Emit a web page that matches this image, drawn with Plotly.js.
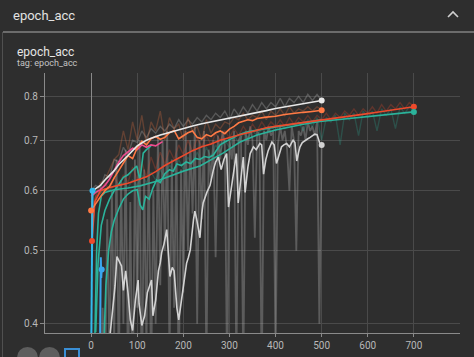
<!DOCTYPE html>
<html>
<head>
<meta charset="utf-8">
<script src="https://cdn.plot.ly/plotly-3.0.1.min.js"></script>
<style>
  html, body { margin:0; padding:0; width:474px; height:357px; overflow:hidden; background:#2e2e2e; font-family: Roboto, "Noto Sans", sans-serif; }
  #hdr { position:absolute; left:13px; top:8px; font-size:13px; color:#e2e2e2; }
  #chev { position:absolute; left:446px; top:9px; }
  #sep { position:absolute; left:3px; top:31px; width:471px; height:2px; background:#6c6c6c; }
  #lborder { position:absolute; left:2px; top:32px; width:1px; height:325px; background:#505050; }
  #ttl { position:absolute; left:17px; top:45px; font-size:12px; color:#e6e6e6; }
  #tag { position:absolute; left:17px; top:58px; font-size:9px; color:#c4c4c4; }
  #plot { position:absolute; left:0; top:0; width:474px; height:357px; }
  .btn { position:absolute; top:347px; width:21px; height:21px; border-radius:50%; background:#5e5e5e; }
  #sq { position:absolute; left:64px; top:348px; width:12px; height:12px; border:2px solid #3a8fd6; }
</style>
</head>
<body>
<div id="plot"></div>
<div id="hdr">epoch_acc</div>
<svg id="chev" width="14" height="10"><polyline points="2,8 7,3 12,8" fill="none" stroke="#cfcfcf" stroke-width="1.6"/></svg>
<div id="sep"></div>
<div id="lborder"></div>
<div id="ttl">epoch_acc</div>
<div id="tag">tag: epoch_acc</div>
<div class="btn" style="left:17px"></div>
<div class="btn" style="left:39px"></div>
<div id="sq"></div>
<script>
// ---------- tick labels ----------
const xTicks = [0, 100, 200, 300, 400, 500, 600, 700];
const yTicks = [0.4, 0.5, 0.6, 0.7, 0.8];
const yTickText = ["0.4", "0.5", "0.6", "0.7", "0.8"];

// ---------- raw (unsmoothed) series ----------
const rawLowSteps = [20,25,30,35,40,45,50,55,60,65,70,75,80,85,90,95,100,105,110,115,120,125,130,135,140,145,150,155,160,165,170,175,180,185,190,195,200,205,210,215,220,225,230,235,240,245,250,255,260,265,270,275,280,285,290,295,300,305,310,315,320,325,330,335,340,345,350,355,360,365,370,375,380,385,390,395,400,405,410,415,420,425,430,435,440,445,450,455,460,465,470,475,480,485,490,495,500];
const rawLowVals = [0.30,0.42,0.33,0.55,0.36,0.60,0.38,0.66,0.34,0.62,0.40,0.68,0.33,0.58,0.30,0.66,0.42,0.70,0.31,0.64,0.37,0.69,0.33,0.60,0.40,0.71,0.45,0.70,0.50,0.72,0.36,0.66,0.42,0.70,0.32,0.64,0.44,0.72,0.50,0.70,0.56,0.73,0.40,0.70,0.55,0.72,0.35,0.68,0.62,0.70,0.49,0.71,0.66,0.72,0.69,0.33,0.70,0.66,0.72,0.35,0.70,0.71,0.34,0.72,0.69,0.73,0.70,0.52,0.72,0.71,0.33,0.72,0.70,0.73,0.71,0.72,0.36,0.69,0.73,0.70,0.72,0.68,0.60,0.73,0.70,0.50,0.72,0.71,0.73,0.70,0.74,0.72,0.73,0.71,0.74,0.40,0.69];

const raw10Steps500 = [0,10,20,30,40,50,60,70,80,90,100,110,120,130,140,150,160,170,180,190,200,210,220,230,240,250,260,270,280,290,300,310,320,330,340,350,360,370,380,390,400,410,420,430,440,450,460,470,480,490,500];
const raw10Steps700 = [0,10,20,30,40,50,60,70,80,90,100,110,120,130,140,150,160,170,180,190,200,210,220,230,240,250,260,270,280,290,300,310,320,330,340,350,360,370,380,390,400,410,420,430,440,450,460,470,480,490,500,510,520,530,540,550,560,570,580,590,600,610,620,630,640,650,660,670,680,690,700];

const rawTopVals = [0.60,0.61,0.605,0.63,0.625,0.66,0.655,0.685,0.67,0.70,0.695,0.72,0.705,0.725,0.715,0.73,0.72,0.735,0.725,0.745,0.73,0.745,0.735,0.75,0.74,0.755,0.745,0.76,0.75,0.765,0.745,0.77,0.755,0.775,0.76,0.78,0.765,0.785,0.77,0.785,0.775,0.795,0.775,0.795,0.785,0.80,0.785,0.805,0.79,0.805,0.79];
const rawOrangeVals = [0.565,0.59,0.615,0.62,0.64,0.66,0.67,0.72,0.68,0.74,0.70,0.755,0.69,0.74,0.72,0.765,0.70,0.75,0.725,0.735,0.70,0.75,0.72,0.73,0.70,0.745,0.715,0.735,0.725,0.74,0.735,0.75,0.745,0.76,0.745,0.755,0.75,0.765,0.745,0.765,0.755,0.77,0.755,0.775,0.76,0.77,0.765,0.775,0.765,0.775,0.768];
const rawRedVals = [0.515,0.59,0.595,0.615,0.60,0.625,0.61,0.63,0.615,0.645,0.62,0.655,0.625,0.665,0.64,0.675,0.65,0.68,0.66,0.69,0.67,0.70,0.675,0.705,0.685,0.71,0.69,0.715,0.70,0.72,0.705,0.725,0.71,0.73,0.715,0.735,0.72,0.74,0.725,0.74,0.73,0.745,0.73,0.75,0.735,0.75,0.74,0.755,0.74,0.755,0.745,0.76,0.745,0.76,0.75,0.765,0.755,0.77,0.755,0.77,0.76,0.775,0.76,0.78,0.765,0.78,0.77,0.785,0.77,0.785,0.775];
const rawTealVals = [0.58,0.60,0.595,0.605,0.60,0.61,0.605,0.615,0.605,0.62,0.61,0.63,0.615,0.635,0.62,0.64,0.625,0.65,0.635,0.66,0.64,0.665,0.65,0.675,0.655,0.685,0.665,0.69,0.675,0.70,0.685,0.71,0.695,0.715,0.705,0.72,0.71,0.725,0.715,0.73,0.72,0.735,0.725,0.735,0.73,0.74,0.72,0.745,0.73,0.75,0.70,0.75,0.74,0.755,0.69,0.76,0.745,0.76,0.71,0.765,0.75,0.765,0.72,0.77,0.755,0.77,0.725,0.775,0.76,0.775,0.763];

// ---------- smoothed series ----------
const topSteps = [0,10,20,30,40,50,60,70,80,90,100,110,120,130,140,150,160,170,180,190,200,220,240,260,280,300,320,340,360,380,400,420,440,460,480,500];
const topVals = [0.598,0.604,0.610,0.620,0.628,0.638,0.650,0.660,0.668,0.678,0.688,0.694,0.700,0.704,0.708,0.711,0.714,0.717,0.720,0.723,0.726,0.731,0.736,0.740,0.744,0.748,0.753,0.757,0.761,0.766,0.771,0.775,0.779,0.783,0.787,0.790];

const orangeSteps = [0,10,20,30,40,50,60,70,80,90,100,110,120,130,140,150,160,170,180,190,200,210,220,230,240,250,260,270,280,290,300,310,320,330,340,350,360,380,400,420,440,460,480,500];
const orangeVals = [0.565,0.578,0.589,0.600,0.608,0.624,0.638,0.652,0.668,0.662,0.684,0.698,0.690,0.703,0.708,0.702,0.706,0.716,0.721,0.703,0.709,0.716,0.720,0.706,0.703,0.712,0.708,0.716,0.720,0.714,0.724,0.730,0.738,0.742,0.745,0.743,0.748,0.751,0.753,0.757,0.760,0.762,0.764,0.767];

const redSteps = [2,8,20,40,60,80,100,120,140,160,180,200,220,240,260,280,300,320,340,360,380,400,420,440,460,480,500,520,540,560,580,600,620,640,660,680,700];
const redVals = [0.515,0.580,0.600,0.606,0.610,0.614,0.620,0.626,0.636,0.648,0.658,0.668,0.678,0.686,0.692,0.700,0.706,0.711,0.716,0.722,0.727,0.730,0.733,0.735,0.738,0.741,0.744,0.747,0.750,0.753,0.756,0.759,0.762,0.765,0.769,0.772,0.775];

const tealASteps = [8,12,16,22,30,50,80,106,140,171,200,236,260,286,323,360,400,431,460,496,524,560,598,640,670,700];
const tealAVals = [0.38,0.50,0.56,0.59,0.597,0.602,0.605,0.609,0.617,0.627,0.637,0.647,0.660,0.673,0.696,0.711,0.722,0.729,0.735,0.741,0.744,0.748,0.752,0.756,0.760,0.763];

const tealBSteps = [28,32,38,44,50,60,70,80,90,100,106,112,118,126,134,142,150,160,170,178,186,196,206,216,226,236,246,256,265,272,280,290,300,312,323,340,360,380,400,420,440,460,480,500];
const tealBVals = [0.38,0.45,0.50,0.53,0.548,0.568,0.585,0.594,0.600,0.602,0.575,0.566,0.590,0.585,0.605,0.620,0.615,0.632,0.640,0.637,0.651,0.648,0.655,0.652,0.662,0.660,0.666,0.664,0.669,0.680,0.690,0.696,0.701,0.708,0.713,0.718,0.722,0.726,0.729,0.732,0.735,0.739,0.742,0.745];

const tealCSteps = [10,15,22,30,40,50,60,70,80,90,99,106,113,120,130];
const tealCVals = [0.39,0.48,0.54,0.565,0.585,0.600,0.612,0.625,0.630,0.640,0.647,0.620,0.673,0.680,0.688];

const pinkSteps = [0,10,20,30,40,50,60,70,80,90,100,110,120,130,140,150,155];
const pinkVals = [0.590,0.597,0.602,0.610,0.622,0.638,0.655,0.668,0.675,0.683,0.680,0.690,0.685,0.690,0.688,0.693,0.697];

const lowSteps = [38,42,45,48,52,56,60,66,70,75,80,85,90,96,102,104,110,116,122,128,131,134,140,146,150,153,158,164,168,171,176,180,186,190,196,202,207,211,215,222,225,229,232,236,240,243,251,258,265,270,276,282,288,294,298,303,308,312,315,319,324,330,334,340,345,352,358,366,370,374,379,384,392,397,402,407,413,418,424,430,438,442,446,450,453,458,464,470,475,480,485,490,496,500];
const lowVals = [0.37,0.39,0.404,0.418,0.45,0.491,0.485,0.477,0.443,0.47,0.44,0.405,0.392,0.43,0.457,0.425,0.398,0.41,0.44,0.45,0.457,0.41,0.43,0.47,0.482,0.497,0.51,0.533,0.49,0.462,0.475,0.47,0.42,0.405,0.43,0.46,0.481,0.49,0.501,0.549,0.564,0.55,0.535,0.52,0.56,0.578,0.597,0.61,0.639,0.655,0.665,0.64,0.66,0.672,0.571,0.60,0.631,0.66,0.672,0.578,0.62,0.665,0.597,0.645,0.672,0.686,0.68,0.693,0.69,0.631,0.66,0.678,0.696,0.69,0.652,0.67,0.686,0.69,0.693,0.686,0.70,0.695,0.657,0.675,0.686,0.695,0.70,0.703,0.706,0.71,0.713,0.712,0.693,0.69];

const cyanSteps = [0,1,2,3];
const cyanVals = [0.35,0.50,0.58,0.60];

const blueSteps = [19,20,21,22,23];
const blueVals = [0.35,0.42,0.49,0.46,0.472];

// ---------- build traces ----------
function raw(x, y, color, op, w) {
  return {x:x, y:y, type:'scatter', mode:'lines', line:{color:color, width:w||1}, opacity:op, hoverinfo:'skip'};
}
function smooth(x, y, color, w) {
  return {x:x, y:y, type:'scatter', mode:'lines', line:{color:color, width:w||1.6}, hoverinfo:'skip'};
}
function dot(x, y, color) {
  return {x:[x], y:[y], type:'scatter', mode:'markers', marker:{color:color, size:6}, hoverinfo:'skip'};
}

const cWhite = '#e8e8e8', cLow = '#d2d2d2', cOrange = '#ff7a45', cRed = '#ee4a2c',
      cTeal = '#2bb39b', cPink = '#ee4d8f', cCyan = '#33bbee', cBlue = '#3aa6f0';

const data = [
  raw(rawLowSteps, rawLowVals, '#bdbdbd', 0.32, 1.8),
  raw(raw10Steps500, rawTopVals, '#bdbdbd', 0.3, 1.4),
  raw(raw10Steps500, rawOrangeVals, cOrange, 0.25, 1.4),
  raw(raw10Steps700, rawRedVals, cRed, 0.25, 1.4),
  raw(raw10Steps700, rawTealVals, cTeal, 0.25, 1.4),
  smooth(lowSteps, lowVals, cLow, 1.6),
  smooth(tealCSteps, tealCVals, cTeal),
  smooth(tealBSteps, tealBVals, cTeal),
  smooth(tealASteps, tealAVals, cTeal),
  smooth(redSteps, redVals, cRed),
  smooth(pinkSteps, pinkVals, cPink),
  smooth(orangeSteps, orangeVals, cOrange),
  smooth(topSteps, topVals, cWhite),
  smooth(cyanSteps, cyanVals, cCyan, 2),
  smooth(blueSteps, blueVals, cBlue, 2),
  dot(topSteps[topSteps.length-1], topVals[topVals.length-1], cWhite),
  dot(orangeSteps[orangeSteps.length-1], orangeVals[orangeVals.length-1], cOrange),
  dot(orangeSteps[0], orangeVals[0], cOrange),
  dot(redSteps[redSteps.length-1], redVals[redVals.length-1], cRed),
  dot(redSteps[0], redVals[0], cRed),
  dot(tealASteps[tealASteps.length-1], tealAVals[tealAVals.length-1], cTeal),
  dot(lowSteps[lowSteps.length-1], lowVals[lowVals.length-1], cLow),
  dot(cyanSteps[cyanSteps.length-1], cyanVals[cyanVals.length-1], cCyan),
  dot(blueSteps[blueSteps.length-1], blueVals[blueVals.length-1], cBlue)
];

const layout = {
  width:474, height:357,
  margin:{l:45, r:14, t:73, b:24, pad:0},
  paper_bgcolor:'rgba(0,0,0,0)', plot_bgcolor:'rgba(0,0,0,0)',
  showlegend:false, hovermode:false,
  font:{family:'Roboto, sans-serif', size:10, color:'#b8b8b8'},
  xaxis:{
    range:[-100, 800], tickvals:xTicks, ticktext:xTicks.map(String),
    showgrid:true, gridcolor:'#4a4a4a', gridwidth:1,
    zeroline:true, zerolinecolor:'#8a8a8a', zerolinewidth:1,
    showline:true, linecolor:'#8a8a8a', linewidth:1,
    ticks:'outside', ticklen:3, tickcolor:'#8a8a8a',
    tickfont:{size:10, color:'#b8b8b8'}, fixedrange:true
  },
  yaxis:{
    type:'log', range:[Math.log10(0.389), Math.log10(0.859)],
    tickvals:yTicks, ticktext:yTickText,
    showgrid:true, gridcolor:'#4a4a4a', gridwidth:1,
    showline:true, linecolor:'#8a8a8a', linewidth:1,
    ticks:'outside', ticklen:4, tickcolor:'#8a8a8a',
    tickfont:{size:10, color:'#b8b8b8'}, fixedrange:true
  }
};

Plotly.newPlot('plot', data, layout, {staticPlot:true, displayModeBar:false});
</script>
</body>
</html>
